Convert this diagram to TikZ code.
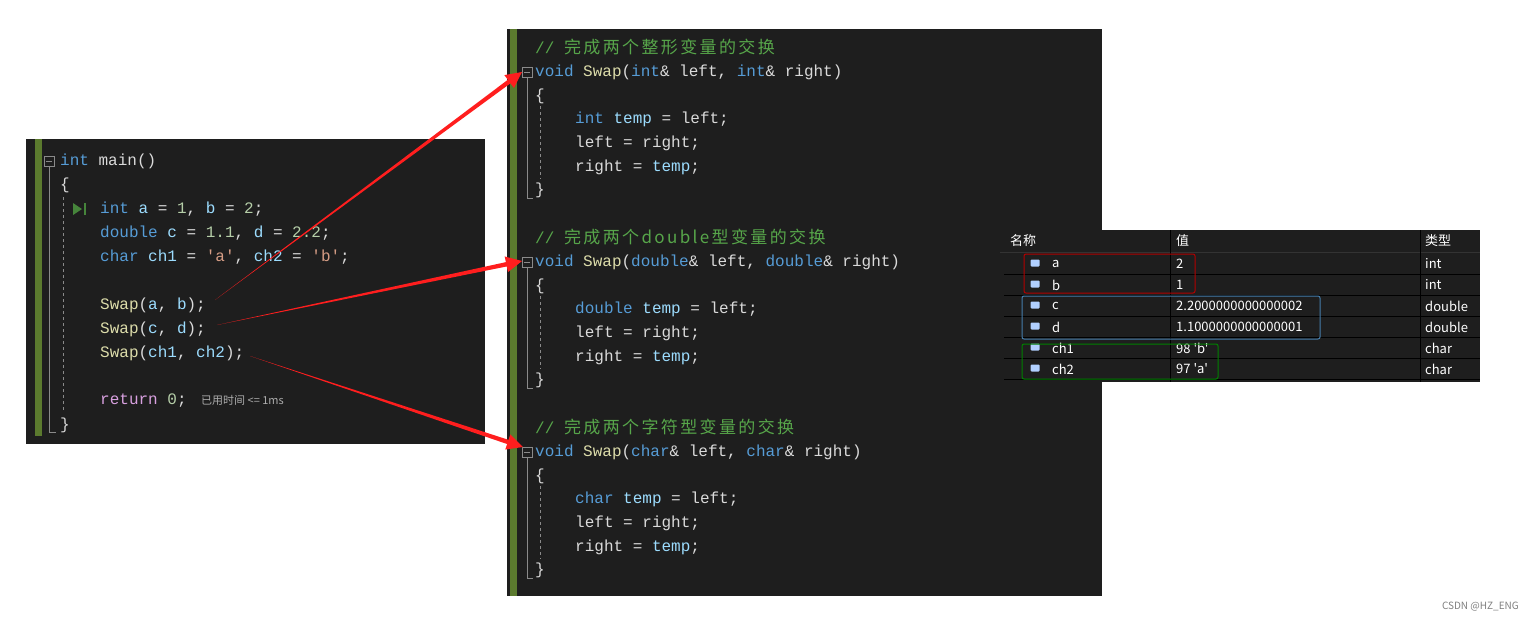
\documentclass[tikz,border=0pt]{standalone}
\usepackage{fontspec}
\usetikzlibrary{calc}
\newfontfamily\code{Liberation Mono}
\newfontfamily\cjk[LetterSpace=14]{Noto Sans CJK SC}
\newfontfamily\tbl{Noto Sans CJK SC}
\definecolor{bg}{HTML}{1E1E1E}
\definecolor{kw}{HTML}{569CD6}
\definecolor{idc}{HTML}{9CDCFE}
\definecolor{fnc}{HTML}{DCDCAA}
\definecolor{txt}{HTML}{DADADA}
\definecolor{cmt}{HTML}{57A64A}
\definecolor{ret}{HTML}{D8A0DF}
\definecolor{num}{HTML}{B5CEA8}
\definecolor{chc}{HTML}{D69D85}
\definecolor{bar}{HTML}{5B7A2E}
\definecolor{guide}{HTML}{8A8A8A}
\definecolor{arr}{HTML}{FF1E1E}
\newcommand{\kwd}[1]{\textcolor{kw}{#1}}
\newcommand{\idn}[1]{\textcolor{idc}{#1}}
\newcommand{\fnn}[1]{\textcolor{fnc}{#1}}
\newcommand{\numb}[1]{\textcolor{num}{#1}}
\newcommand{\chr}[1]{\textcolor{chc}{#1}}
\newcommand{\cj}[1]{{\cjk\fontsize{17}{20}\selectfont #1}}
\tikzset{
  cl/.style={anchor=west,inner sep=0pt,text=txt,font=\code\fontsize{16}{20}\selectfont},
  cmtl/.style={cl,text=cmt},
  tb/.style={anchor=west,inner sep=0pt,text=white,font=\tbl\fontsize{13}{15}\selectfont},
  fold/.style={draw=guide,line width=0.8pt},
  ico/.style={fill=idc!80!blue!60,rounded corners=1pt,minimum width=9pt,minimum height=7pt,inner sep=0pt}
}
\newcommand{\taper}[2]{%
  \fill[arr] (#1) -- ($($(#2)!16pt!(#1)$)!2.2pt!90:(#2)$) -- ($($(#2)!16pt!(#1)$)!8pt!90:(#2)$) -- (#2)
   -- ($($(#2)!16pt!(#1)$)!8pt!-90:(#2)$) -- ($($(#2)!16pt!(#1)$)!2.2pt!-90:(#2)$) -- cycle;}
\newcommand{\swapblock}[4]{%
  \node[cmtl] (#4c) at (535,#1) {// \cj{#2}};
  \node[cl] (#4v) at (535,#1+25) {\kwd{void} \fnn{Swap}(\kwd{#3}\& left, \kwd{#3}\& right)};
  \draw[fold,fill=bg] (522,#1+20) rectangle (532,#1+30);
  \draw[fold] (524,#1+25) -- (530,#1+25);
  \draw[fold] (527,#1+30) -- (527,#1+151) -- (533,#1+151);
  \draw[guide,dashed] (540,#1+59) -- (540,#1+132);
  \node[cl] at (535,#1+49) {\{};
  \node[cl] at (575,#1+72) {\kwd{#3} \idn{temp} = left;};
  \node[cl] at (575,#1+96) {left = right;};
  \node[cl] at (575,#1+120) {right = \idn{temp};};
  \node[cl] at (535,#1+143) {\}};
}
\begin{document}
\begin{tikzpicture}[x=1pt,y=-1pt]
\useasboundingbox (0,0) rectangle (1534,622);
\fill[white] (0,0) rectangle (1534,622);
% left panel
\fill[bg] (26,139) rectangle (485,444);
\fill[bar] (35,139) rectangle (42,436);
\draw[fold,fill=bg] (44,156) rectangle (54,166);
\draw[fold] (46,161) -- (52,161);
\draw[fold] (49,166) -- (49,432) -- (56,432);
\draw[guide,dashed] (63,197) -- (63,412);
\node[cl] (m1) at (60,161) {\kwd{int} main()};
\node[cl] at (60,185) {\{};
\fill[cmt!80!black] (73,203) -- (82,209) -- (73,215) -- cycle;
\fill[cmt!80!black] (84,203) rectangle (86,215);
\node[cl] at (100,209) {\kwd{int} \idn{a} = \numb{1}, \idn{b} = \numb{2};};
\node[cl] at (100,233) {\kwd{double} \idn{c} = \numb{1.1}, \idn{d} = \numb{2.2};};
\node[cl] at (100,257) {\kwd{char} \idn{ch1} = \chr{'a'}, \idn{ch2} = \chr{'b'};};
\node[cl] (s1) at (100,305) {\fnn{Swap}(\idn{a}, \idn{b});};
\node[cl] (s2) at (100,329) {\fnn{Swap}(\idn{c}, \idn{d});};
\node[cl] (s3) at (100,353) {\fnn{Swap}(\idn{ch1}, \idn{ch2});};
\node[cl] at (100,401) {\textcolor{ret}{return} \numb{0};};
\node[anchor=west,inner sep=0pt,text=guide!70!white,font=\tbl\fontsize{11}{13}\selectfont] at (201,400) {已用时间 <= 1ms};
\node[cl] at (60,425) {\}};
% middle panel
\fill[bg] (507,29) rectangle (1102,596);
\fill[bar] (510,29) rectangle (517,596);
\swapblock{47}{完成两个整形变量的交换}{int}{b1}
\swapblock{237}{完成两个double型变量的交换}{double}{b2}
\swapblock{427}{完成两个字符型变量的交换}{char}{b3}
% table
\fill[bg] (1000,230) rectangle (1480,382);
\draw[black!80] (1000,252) -- (1480,252);
\foreach \yy in {274,295,316,337,358,379} \draw[black,line width=0.8pt] (1004,\yy) -- (1480,\yy);
\draw[black,line width=0.8pt] (1170,230) -- (1170,382) (1420,230) -- (1420,382);
\node[tb] at (1010,241) {名称};
\node[tb] at (1176,241) {值};
\node[tb] at (1425,241) {类型};
\foreach \yy/\nn/\vv/\ty in {264/a/2/int,285/b/1/int,306/c/2.2000000000000002/double,327/d/1.1000000000000001/double,348/ch1/98 'b'/char,369/ch2/97 'a'/char}{
  \node[ico] at (1035,\yy-1) {};
  \node[tb] at (1052,\yy) {\nn};
  \node[tb] at (1176,\yy) {\vv};
  \node[tb] at (1425,\yy) {\ty};
}
\draw[red!70!black,line width=1pt,rounded corners=2pt] (1024,254) rectangle (1195,293);
\draw[kw!80!black,line width=1pt,rounded corners=2pt] (1022,296) rectangle (1320,339);
\draw[green!50!black,line width=1pt,rounded corners=2pt] (1022,344) rectangle (1218,379);
% arrows
\coordinate (a1s) at (215,300); \coordinate (a1e) at (522,72);
\coordinate (a2s) at (217,325); \coordinate (a2e) at (522,261);
\coordinate (a3s) at (250,356); \coordinate (a3e) at (523,447);
\taper{a1s}{a1e}
\taper{a2s}{a2e}
\taper{a3s}{a3e}
\node[anchor=east,inner sep=0pt,text=gray,font=\tbl\fontsize{10}{12}\selectfont] at (1519,607) {CSDN @HZ\_ENG};
\end{tikzpicture}
\end{document}
